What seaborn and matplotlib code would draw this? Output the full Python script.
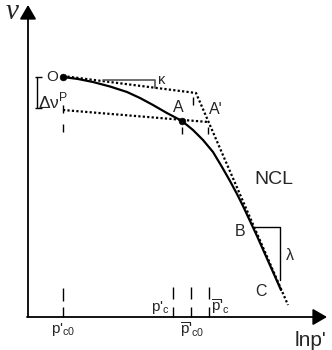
import numpy as np
import pandas as pd
import seaborn as sns
import matplotlib.pyplot as plt

sns.set_style('white')
plt.rcParams['font.family'] = ['Liberation Sans', 'DejaVu Sans']
plt.rcParams['mathtext.fontset'] = 'custom'
plt.rcParams['mathtext.rm'] = 'Liberation Sans'

# compression curve (ln p', v) in diagram units
curve_lnp = [35, 50, 65, 82, 99, 112, 125, 138, 154, 165, 175, 185, 194, 202, 209, 215, 222, 229, 241, 253]
curve_v = [240, 238, 235, 230.5, 225, 219, 212, 204.5, 196, 187, 177, 165, 150, 136, 123, 111, 96, 81, 54, 27]

# unloading/reloading line from O, then the NCL
ncl_lnp = [35, 168, 260]
ncl_v = [241, 224, 12]

# shifted kappa line through A to A'
kappa2_lnp = [35, 180]
kappa2_v = [207, 195]

# slope triangles
kappa_tri_lnp = [75, 127, 127]
kappa_tri_v = [237, 237, 229]
lambda_tri_lnp = [227, 252, 252]
lambda_tri_v = [90, 90, 37]

# points O and A
pts_lnp = [35, 154]
pts_v = [240, 196]

# positions of the pressures on the ln p' axis
p_c0 = 35
p_c = 145
pbar_c0 = 163
pbar_c = 181

fig = plt.figure(figsize=(3.32, 3.5), dpi=100)
ax = fig.add_axes([0, 0, 1, 1])
ax.set_xlim(-28, 304)
ax.set_ylim(-33, 317)
ax.axis('off')

dots = (0, (1, 1))
sns.lineplot(x=curve_lnp, y=curve_v, sort=False, estimator=None, color='black', lw=1.6, ax=ax)
sns.lineplot(x=ncl_lnp, y=ncl_v, sort=False, estimator=None, color='black', lw=1.6, linestyle=dots, ax=ax)
sns.lineplot(x=kappa2_lnp, y=kappa2_v, sort=False, estimator=None, color='black', lw=1.6, linestyle=dots, ax=ax)
sns.lineplot(x=kappa_tri_lnp, y=kappa_tri_v, sort=False, estimator=None, color='#555555', lw=1.2, ax=ax)
sns.lineplot(x=lambda_tri_lnp, y=lambda_tri_v, sort=False, estimator=None, color='black', lw=1.0, ax=ax)
sns.scatterplot(x=pts_lnp, y=pts_v, color='black', s=24, edgecolor='black', ax=ax, zorder=5)

# axes with arrows
arrow = dict(arrowstyle='-|>,head_length=0.86,head_width=0.5', color='black', lw=1.3,
             shrinkA=0, shrinkB=0)
ax.annotate('', xy=(0, 312), xytext=(0, 0), arrowprops=arrow)
ax.annotate('', xy=(299, 0), xytext=(-1, 0), arrowprops=arrow)

# short dashed guide marks
lw_t = 1.0
ax.vlines([p_c0, p_c0], [204, 185], [212, 193], color='black', lw=lw_t)
ax.vlines([p_c0, p_c0], [16, 0], [29, 10], color='black', lw=lw_t)
for x in [p_c, pbar_c0, pbar_c]:
    ax.vlines([x, x], [18, 0], [30, 10], color='black', lw=lw_t)
ax.vlines([154, 180], [183, 183], [190, 190], color='black', lw=lw_t)
ax.vlines([165], [212], [220], color='black', lw=lw_t)

# delta v^p bracket
ax.vlines([9], [209], [240], color='black', lw=1.0)
ax.hlines([209, 240], [7, 7], [14, 14], color='black', lw=1.0)

# labels
ax.text(-16, 305, 'ν', family='Liberation Serif', style='italic', fontsize=21, ha='center', va='center')
ax.text(283, -24, "lnp'", fontsize=15, ha='center', va='center')
ax.text(24, 240, 'O', fontsize=11, ha='center', va='center')
ax.text(9.5, 216, 'Δν$^{\\mathregular{P}}$', fontsize=12.5, ha='left', va='center')
ax.text(134, 237, 'κ', fontsize=10.5, ha='center', va='center')
ax.text(150, 209, 'A', fontsize=11.5, ha='center', va='center')
ax.text(188, 207, "A'", fontsize=11.5, ha='center', va='center')
ax.text(246, 137, 'NCL', fontsize=14, ha='center', va='center')
ax.text(212, 85, 'B', fontsize=11.5, ha='center', va='center')
ax.text(262, 61, 'λ', fontsize=11.5, ha='center', va='center')
ax.text(233, 26, 'C', fontsize=11.5, ha='center', va='center')
ax.text(p_c0, -13, "p'$_{\\mathregular{c0}}$", fontsize=11, ha='center', va='center')
ax.text(p_c - 3, 9, "p'$_{\\mathregular{c}}$", fontsize=11, ha='right', va='center')
ax.text(pbar_c0 + 1, -13, "$\\overline{\\mathregular{p}}$'$_{\\mathregular{c0}}$", fontsize=11, ha='center', va='center')
ax.text(pbar_c + 2, 10, "$\\overline{\\mathregular{p}}$'$_{\\mathregular{c}}$", fontsize=11, ha='left', va='center')

fig.savefig('out.png', dpi=100)
